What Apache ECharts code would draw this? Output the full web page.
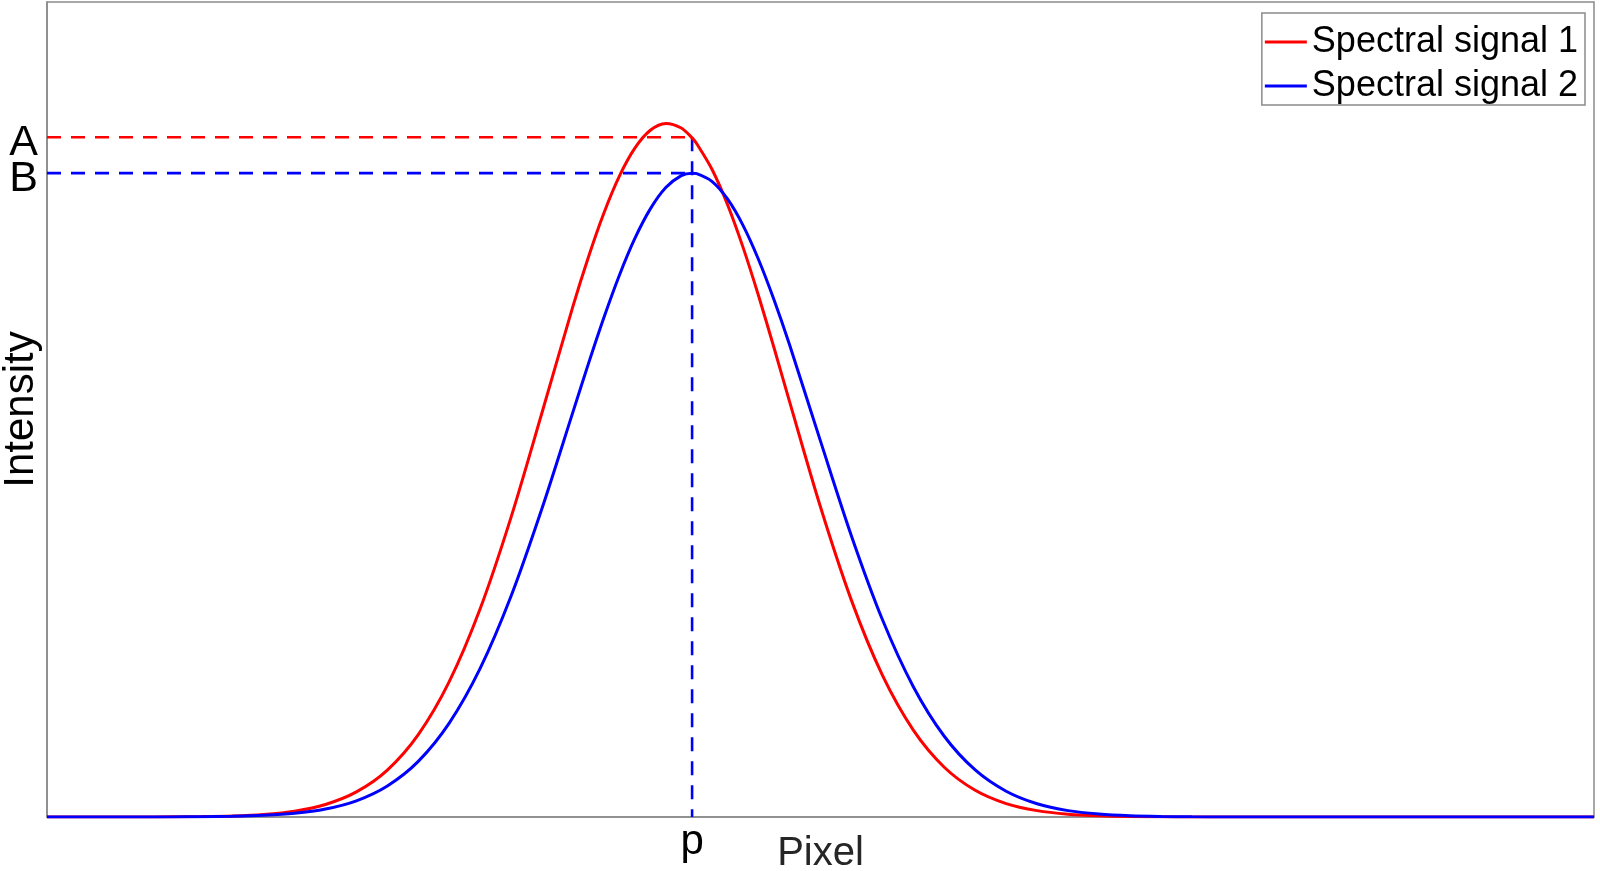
<!DOCTYPE html>
<html>
<head>
<meta charset="utf-8">
<script src="https://cdn.jsdelivr.net/npm/echarts@6/dist/echarts.min.js"></script>
<style>
html,body{margin:0;padding:0;background:#fff;}
#chart{width:1600px;height:871px;}
</style>
</head>
<body>
<div id="chart"></div>
<script>
// Pixel positions (arbitrary units 0..1000) and intensities
const pixels = [0, 20, 40, 60, 80, 100, 120, 140, 160, 180, 200, 220, 240, 260, 280, 300, 320, 340, 350, 360, 370, 380, 390, 400, 410, 417, 420, 430, 440, 450, 460, 470, 480, 500, 520, 540, 560, 580, 600, 620, 640, 660, 680, 700, 720, 740, 760, 780, 800, 850, 900, 950, 1000];
const signal1 = [0, 0, 0, 0, 0.0002, 0.0005, 0.0013, 0.0032, 0.0072, 0.0154, 0.0308, 0.0576, 0.1011, 0.1661, 0.2555, 0.368, 0.4963, 0.6268, 0.6872, 0.7412, 0.7864, 0.8207, 0.8426, 0.851, 0.8454, 0.8333, 0.8261, 0.7942, 0.751, 0.6986, 0.6393, 0.5755, 0.5096, 0.3803, 0.2658, 0.174, 0.1066, 0.0611, 0.0328, 0.0165, 0.0078, 0.0034, 0.0014, 0.0005, 0.0002, 0, 0, 0, 0, 0, 0, 0, 0];
const signal2 = [0, 0, 0, 0, 0.0001, 0.0003, 0.0008, 0.002, 0.0045, 0.0098, 0.0199, 0.0381, 0.0683, 0.1152, 0.1823, 0.2711, 0.3788, 0.4971, 0.5563, 0.6129, 0.6648, 0.7099, 0.7462, 0.7724, 0.787, 0.79, 0.7894, 0.7797, 0.758, 0.7256, 0.6837, 0.6343, 0.5794, 0.4612, 0.3449, 0.2423, 0.1599, 0.0991, 0.0577, 0.0316, 0.0162, 0.0078, 0.0036, 0.0015, 0.0006, 0.0002, 0.0001, 0, 0, 0, 0, 0, 0];
const seriesNames = ['Spectral signal 1', 'Spectral signal 2'];
const pPos = 417;      // pixel p
const levelA = 0.834;  // intensity A (signal 1 at p)
const levelB = 0.79;   // intensity B (signal 2 at p)
const xLabels = ['p'];
const yLabels = ['A', 'B'];

const zip = (xs, ys) => xs.map((x, i) => [x, ys[i]]);

const chart = echarts.init(document.getElementById('chart'), null, {renderer: 'canvas'});
const font = 'Liberation Sans, Arial, sans-serif';
const frame = '#8a8a8a';
const yLabelStyle = {
  fontFamily: font, fontSize: 43, color: '#000', margin: 9, hideOverlap: false,
  rich: {l: {fontFamily: font, fontSize: 43, color: '#000', padding: [12, 0, 0, 0]}}
};
chart.setOption({
  animation: false,
  backgroundColor: '#fff',
  grid: {left: 47, right: 6, top: 2, bottom: 54, show: true, borderColor: frame, borderWidth: 1.5,
         containLabel: false, outerBoundsMode: 'none'},
  legend: {
    data: seriesNames,
    orient: 'vertical',
    right: 15, top: 13,
    backgroundColor: '#fff',
    borderColor: frame, borderWidth: 1.5, borderRadius: 0,
    padding: [10, 7, 0, 3],
    itemGap: 6,
    icon: 'rect', itemWidth: 42, itemHeight: 3,
    textStyle: {fontFamily: font, fontSize: 36, lineHeight: 38, color: '#000'}
  },
  xAxis: {
    type: 'value', min: 0, max: 1000,
    name: 'Pixel', nameLocation: 'middle', nameGap: 17, nameMoveOverlap: false,
    nameTextStyle: {fontFamily: font, fontSize: 40, color: '#262626', verticalAlign: 'top'},
    axisLine: {show: true, lineStyle: {color: frame, width: 1.5}},
    axisTick: {show: false},
    splitLine: {show: false},
    axisLabel: {
      customValues: [pPos], margin: 4, hideOverlap: false,
      formatter: () => xLabels[0],
      fontFamily: font, fontSize: 42, color: '#000'
    }
  },
  yAxis: [{
    type: 'value', min: 0, max: 1,
    name: 'Intensity', nameLocation: 'middle', nameGap: 5, nameMoveOverlap: false,
    nameTextStyle: {fontFamily: font, fontSize: 42, color: '#000'},
    axisLine: {show: true, lineStyle: {color: frame, width: 1.5}},
    axisTick: {show: false},
    splitLine: {show: false},
    axisLabel: Object.assign({customValues: [levelB], formatter: () => '{l|' + yLabels[1] + '}'}, yLabelStyle)
  }, {
    type: 'value', min: 0, max: 1, position: 'left', offset: 0,
    axisLine: {show: false},
    axisTick: {show: false},
    splitLine: {show: false},
    axisLabel: Object.assign({customValues: [levelA], formatter: () => '{l|' + yLabels[0] + '}'}, yLabelStyle)
  }],
  series: [
    {name: 'guideA', type: 'line', symbol: 'none', silent: true, z: 1,
     data: [[0, levelA], [pPos, levelA]],
     lineStyle: {color: '#ff0000', width: 2.6, type: [14, 10]}},
    {name: 'guideB', type: 'line', symbol: 'none', silent: true, z: 1,
     data: [[0, levelB], [pPos, levelB]],
     lineStyle: {color: '#0000ff', width: 2.6, type: [14, 10]}},
    {name: 'guideP', type: 'line', symbol: 'none', silent: true, z: 1,
     data: [[pPos, levelA], [pPos, 0]],
     lineStyle: {color: '#0000ff', width: 2.6, type: [14, 10]}},
    {name: seriesNames[0], type: 'line', symbol: 'none', smooth: 0.3, z: 3,
     data: zip(pixels, signal1), color: '#ff0000',
     lineStyle: {color: '#ff0000', width: 3}},
    {name: seriesNames[1], type: 'line', symbol: 'none', smooth: 0.3, z: 3,
     data: zip(pixels, signal2), color: '#0000ff',
     lineStyle: {color: '#0000ff', width: 3}}
  ]
});
</script>
</body>
</html>
